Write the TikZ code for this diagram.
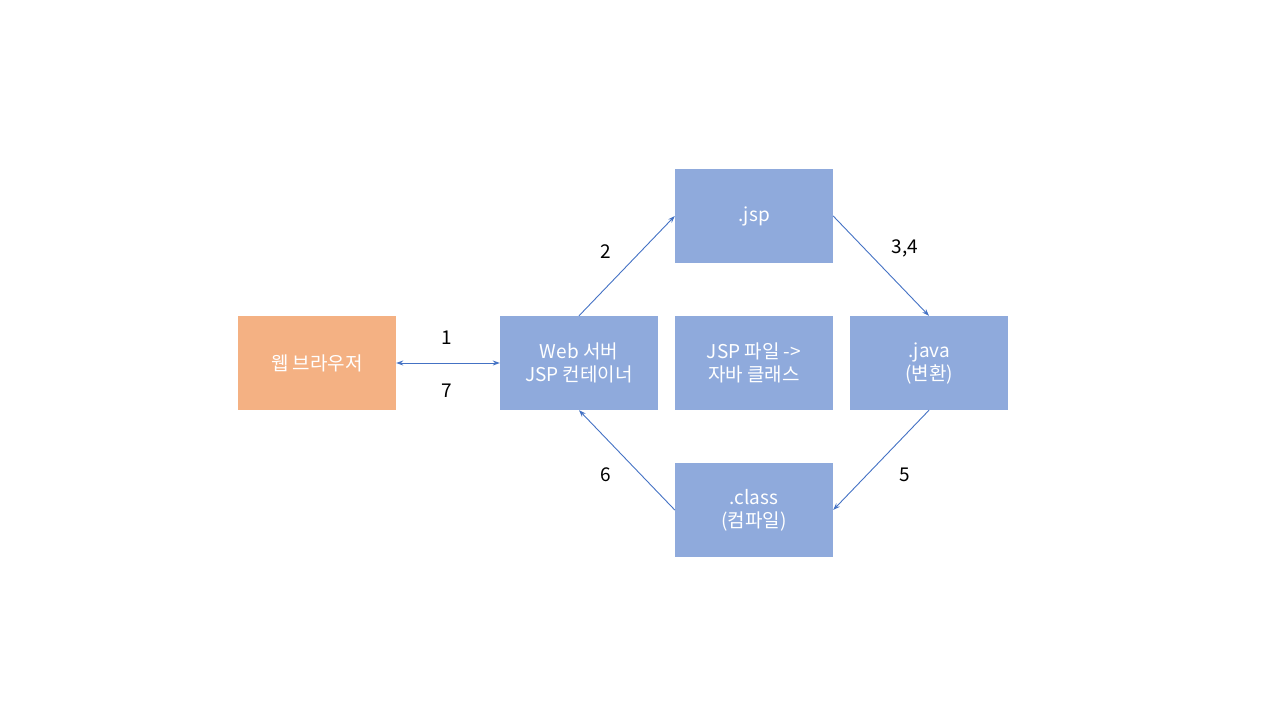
\documentclass[tikz,border=0pt]{standalone}
\usepackage{fontspec}
\setmainfont{Noto Sans CJK KR}
\usetikzlibrary{arrows.meta}
\definecolor{boxblue}{HTML}{8FAADC}
\definecolor{boxor}{HTML}{F4B183}
\definecolor{ln}{HTML}{4472C4}
\tikzset{
 bx/.style={fill=boxblue,minimum width=158pt,minimum height=94pt,inner sep=0pt,text=white,align=center,font=\fontsize{19}{23}\selectfont},
 conn/.style={draw=ln,line width=0.9pt,-{Stealth[length=7pt,width=5pt]}},
 lbl/.style={font=\fontsize{19}{23}\selectfont}
}
\begin{document}
\begin{tikzpicture}[x=1pt,y=-1pt]
\useasboundingbox (0,0) rectangle (1280,720);
\node[bx,fill=boxor] (br) at (317,363) {웹 브라우저};
\node[bx] (ws) at (579,363) {Web 서버\\JSP 컨테이너};
\node[bx] (jsp) at (754,216) {.jsp};
\node[bx] (mid) at (754,363) {JSP 파일 -\kern0pt>\\자바 클래스};
\node[bx] (jv) at (929,363) {.java\\(변환)};
\node[bx] (cl) at (754,510) {.class\\(컴파일)};
\draw[conn,{Stealth[length=7pt,width=5pt]}-{Stealth[length=7pt,width=5pt]}] (br.east) -- (ws.west);
\draw[conn] (ws.north) -- (jsp.west);
\draw[conn] (jsp.east) -- (jv.north);
\draw[conn] (jv.south) -- (cl.east);
\draw[conn] (cl.west) -- (ws.south);
\node[lbl] (l1) at (447,338) {1};
\node[lbl] (l7) at (447,391) {7};
\node[lbl] (l2) at (606,252) {2};
\node[lbl] (l34) at (905,248) {3,4};
\node[lbl] (l5) at (905,475) {5};
\node[lbl] (l6) at (606,475) {6};
\end{tikzpicture}
\end{document}
